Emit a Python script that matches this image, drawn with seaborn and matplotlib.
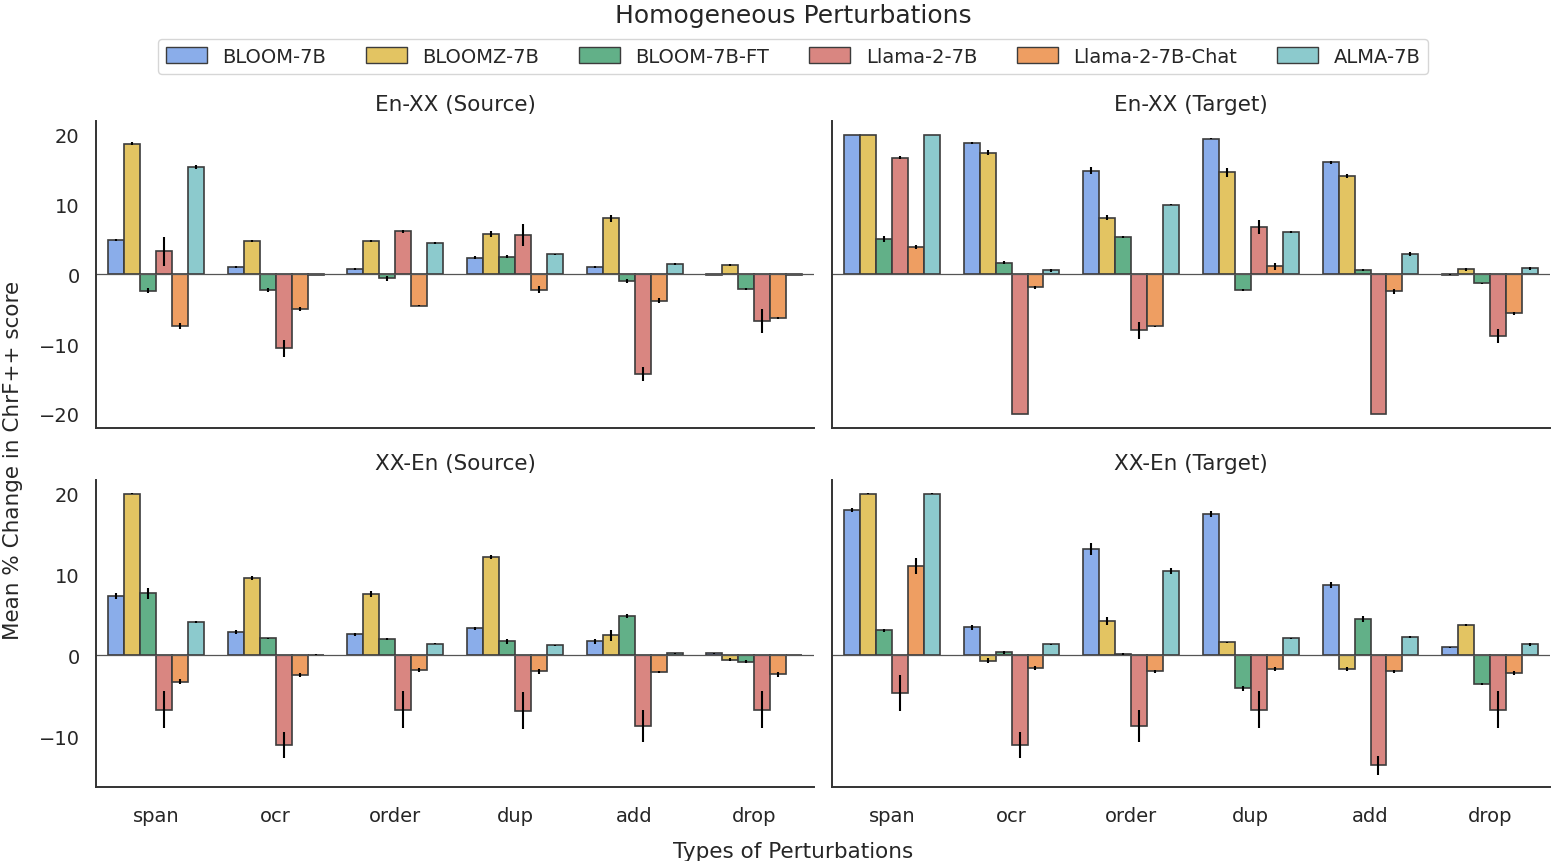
import pandas as pd
import matplotlib.pyplot as plt
import seaborn as sns
from matplotlib.patches import Patch

# categorias y modelos
perturbaciones = ['span', 'ocr', 'order', 'dup', 'add', 'drop']
modelos = ['BLOOM-7B', 'BLOOMZ-7B', 'BLOOM-7B-FT', 'Llama-2-7B', 'Llama-2-7B-Chat', 'ALMA-7B']
colores = ['#8aadea', '#e3c462', '#62b088', '#d98681', '#ee9e62', '#8ccacd']

# valores por panel: una fila por modelo, una columna por perturbacion
en_xx_fuente = [
    [4.9, 1.05, 0.76, 2.38, 1.05, -0.1],
    [18.76, 4.76, 4.76, 5.76, 8.05, 1.38],
    [-2.33, -2.2, -0.57, 2.52, -0.95, -2.05],
    [3.33, -10.6, 6.19, 5.62, -14.33, -6.71],
    [-7.43, -4.9, -4.48, -2.19, -3.76, -6.19],
    [15.4, -0.1, 4.48, 2.9, 1.48, -0.1],
]
en_xx_fuente_err = [
    [0.15, 0.1, 0.15, 0.2, 0.15, 0.05],
    [0.25, 0.15, 0.15, 0.4, 0.5, 0.15],
    [0.4, 0.3, 0.3, 0.2, 0.25, 0.15],
    [2.1, 1.2, 0.2, 1.6, 1.0, 1.7],
    [0.4, 0.3, 0.1, 0.5, 0.4, 0.15],
    [0.3, 0.05, 0.1, 0.1, 0.1, 0.05],
]

en_xx_objetivo = [
    [20, 18.9, 14.9, 19.48, 16.05, -0.05],
    [20, 17.48, 8.14, 14.62, 14.14, 0.71],
    [5.05, 1.71, 5.38, -2.19, 0.62, -1.29],
    [16.76, -20, -8.0, 6.76, -20, -8.76],
    [3.9, -1.86, -7.43, 1.19, -2.43, -5.57],
    [20, 0.57, 10.0, 6.05, 2.9, 0.9],
]
en_xx_objetivo_err = [
    [0.05, 0.15, 0.5, 0.1, 0.15, 0.05],
    [0.05, 0.4, 0.35, 0.6, 0.3, 0.2],
    [0.4, 0.25, 0.1, 0.15, 0.1, 0.1],
    [0.25, 0.05, 1.2, 1.0, 0.05, 1.0],
    [0.3, 0.2, 0.1, 0.5, 0.4, 0.2],
    [0.05, 0.2, 0.1, 0.15, 0.3, 0.2],
]

xx_en_fuente = [
    [7.33, 2.86, 2.61, 3.35, 1.74, 0.25],
    [20, 9.57, 7.58, 12.17, 2.48, -0.54],
    [7.7, 2.11, 1.99, 1.74, 4.84, -0.79],
    [-6.75, -11.14, -6.75, -6.87, -8.78, -6.75],
    [-3.27, -2.44, -1.82, -1.95, -2.07, -2.32],
    [4.1, 0.1, 1.45, 1.24, 0.25, 0.02],
]
xx_en_fuente_err = [
    [0.4, 0.25, 0.15, 0.2, 0.3, 0.05],
    [0.05, 0.3, 0.35, 0.3, 0.7, 0.2],
    [0.7, 0.1, 0.1, 0.3, 0.25, 0.2],
    [2.3, 1.6, 2.3, 2.3, 2.0, 2.3],
    [0.3, 0.2, 0.2, 0.3, 0.15, 0.3],
    [0.1, 0.05, 0.05, 0.05, 0.05, 0.02],
]

xx_en_objetivo = [
    [18.0, 3.48, 13.17, 17.5, 8.7, 0.99],
    [20, -0.66, 4.22, 1.61, -1.7, 3.73],
    [3.1, 0.37, 0.17, -4.06, 4.47, -3.52],
    [-4.64, -11.14, -8.78, -6.75, -13.62, -6.75],
    [11.06, -1.57, -1.95, -1.7, -1.95, -2.19],
    [20, 1.37, 10.43, 2.11, 2.24, 1.37],
]
xx_en_objetivo_err = [
    [0.3, 0.3, 0.7, 0.4, 0.4, 0.1],
    [0.05, 0.3, 0.5, 0.1, 0.2, 0.1],
    [0.2, 0.2, 0.15, 0.3, 0.35, 0.1],
    [2.2, 1.6, 2.0, 2.3, 1.2, 2.3],
    [1.0, 0.2, 0.2, 0.2, 0.2, 0.2],
    [0.05, 0.1, 0.35, 0.1, 0.15, 0.2],
]

paneles = [
    ('En-XX (Source)', en_xx_fuente, en_xx_fuente_err),
    ('En-XX (Target)', en_xx_objetivo, en_xx_objetivo_err),
    ('XX-En (Source)', xx_en_fuente, xx_en_fuente_err),
    ('XX-En (Target)', xx_en_objetivo, xx_en_objetivo_err),
]

sns.set_theme(style="white")
plt.rcParams['font.family'] = ['DejaVu Sans']


def tabla_larga(valores):
    filas = []
    for i, m in enumerate(modelos):
        for j, p in enumerate(perturbaciones):
            filas.append({'modelo': m, 'perturbacion': p, 'valor': valores[i][j]})
    return pd.DataFrame(filas)


# funcion que dibuja un panel con sus barras de error
def dibujar_panel(ax, titulo, valores, errores):
    datos = tabla_larga(valores)
    sns.barplot(data=datos, x='perturbacion', y='valor', hue='modelo',
                order=perturbaciones, hue_order=modelos, palette=colores,
                saturation=1, errorbar=None, legend=False, ax=ax,
                edgecolor='#3c3c3c', linewidth=1.2)
    grupos = list(ax.containers)  # uno por modelo, antes de agregar los errores
    for i, barras in enumerate(grupos):
        for j, barra in enumerate(barras):
            x = barra.get_x() + barra.get_width() / 2
            ax.errorbar(x, barra.get_height(), yerr=errores[i][j],
                        color='black', lw=1.5, capsize=0, zorder=5)
    ax.axhline(0, color='#555555', lw=0.9, zorder=1)
    ax.set_xlim(-0.5, len(perturbaciones) - 0.5)
    ax.set_title(titulo, fontsize=15.5, pad=8)
    ax.set_xlabel('')
    ax.set_ylabel('')
    ax.tick_params(axis='x', labelsize=14, pad=8)
    ax.tick_params(axis='y', labelsize=14, pad=6)
    for lado in ['left', 'bottom']:
        ax.spines[lado].set_color('#333333')
        ax.spines[lado].set_linewidth(1.4)
    sns.despine(ax=ax)


fig, axes = plt.subplots(2, 2, figsize=(15.52, 8.62), dpi=100, sharex=True, sharey='row')
fig.subplots_adjust(left=0.062, right=0.9987, top=0.8585, bottom=0.0858,
                    wspace=0.025, hspace=0.17)

for ax, (titulo, valores, errores) in zip(axes.flat, paneles):
    dibujar_panel(ax, titulo, valores, errores)

axes[0, 0].set_ylim(-22, 22)
axes[1, 0].set_ylim(-16.3, 21.7)
axes[0, 0].set_yticks([-20, -10, 0, 10, 20])
axes[1, 0].set_yticks([-10, 0, 10, 20])
for ax in axes[0]:
    ax.tick_params(axis='x', labelbottom=False)
for ax in axes[:, 1]:
    ax.tick_params(axis='y', labelleft=False)

# leyenda comun arriba
manijas = [Patch(facecolor=c, edgecolor='#3c3c3c', label=m) for m, c in zip(modelos, colores)]
fig.legend(handles=manijas, loc='center', bbox_to_anchor=(0.511, 0.9335), ncol=6,
           fontsize=14, frameon=True, handlelength=2.1, handleheight=0.9,
           columnspacing=2.05, handletextpad=0.8, borderpad=0.4)

fig.suptitle('Homogeneous Perturbations', fontsize=18, x=0.511, y=0.995, va='top')
fig.supylabel('Mean % Change in ChrF++ score', fontsize=15.5, x=0.002, y=0.466)
fig.supxlabel('Types of Perturbations', fontsize=15.5, x=0.511, y=0.0)

fig.savefig('out.png', dpi=100)
